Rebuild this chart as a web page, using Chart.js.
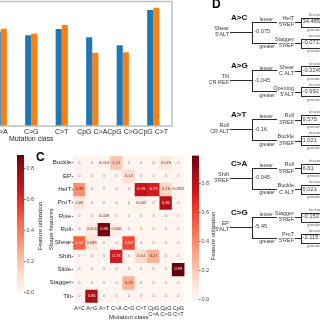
<!DOCTYPE html>
<html>
<head>
<meta charset="utf-8">
<script src="https://cdn.jsdelivr.net/npm/chart.js@4.4.1/dist/chart.umd.min.js"></script>
<style>
  html, body { margin: 0; padding: 0; background: #fff; width: 320px; height: 320px; overflow: hidden; position: relative; font-family: "Liberation Sans", Arial, sans-serif; }
  canvas { position: absolute; }
  .t { position: absolute; white-space: nowrap; line-height: 1; color: #3a3a3a; }
  .ln { position: absolute; background: #2a2a2a; }
</style>
</head>
<body>
<canvas id="barA" width="279" height="143" style="left:-106px;top:0"></canvas>
<canvas id="heatB" width="13" height="172" style="left:-4.3px;top:150px"></canvas>
<canvas id="cbB" width="20" height="147" style="left:17px;top:150px"></canvas>
<canvas id="heatC" width="146" height="172" style="left:40.5px;top:150px"></canvas>
<canvas id="cbC" width="20" height="154" style="left:192px;top:150px"></canvas>

<script>
// ---- bar chart (panel A, cropped) ----
const barLabels = ['A>C', 'A>G', 'A>T', 'C>A', 'C>G', 'C>T', 'CpG C>A', 'CpG C>G', 'CpG C>T'];
const blueVals = [0.80, 0.78, 0.74, 0.76, 0.729, 0.779, 0.712, 0.648, 0.932];
const orangeVals = [0.83, 0.80, 0.76, 0.781, 0.741, 0.811, 0.589, 0.592, 0.950];

// ---- heatmaps ----
const shapeRows = ['Buckle', 'EP', 'HelT', 'ProT', 'Rise', 'Roll', 'Shear', 'Shift', 'Slide', 'Stagger', 'Tilt'];
const mutCols = ['A>C', 'A>G', 'A>T', 'C>A', 'C>G', 'C>T', ['CpG', 'C>A'], ['CpG', 'C>G'], ['CpG', 'C>T']];
const utilC = [
  [0, 0, 0.014, 0.21, 0, 0, 0, 0.076, 0],
  [0, 0, 0, 0, 0.13, 0, 0, 0, 0],
  [0.38, 0, 0, 0, 0, 0.78, 0.73, 0.16, 0.0091],
  [0.09, 0, 0, 0, 0, 0.042, 0, 0.81, 0],
  [0, 0, 0.028, 0, 0, 0, 0, 0, 0],
  [0, 0.054, 0.96, 0.046, 0, 0, 0, 0, 0],
  [0.52, 0.089, 0, 0, 0.59, 0, 0, 0, 0],
  [0, 0, 0, 0.73, 0, 0.14, 0.27, 0, 0],
  [0, 0, 0, 0, 0, 0, 0, 0, 0.99],
  [0, 0, 0, 0, 0.28, 0, 0, 0, 0],
  [0, 0.85, 0, 0, 0, 0, 0, 0, 0]
];
const colsB = [['CpG', 'C>T']];
const utilB = [[0], [0], [0], [0], [0], [0.11], [0], [0], [0.89], [0], [0]];
const vmaxC = 0.99;
const vmaxB = 0.89;
const cbTicks = [0, 0.2, 0.4, 0.6, 0.8];

// ---- decision trees (panel D) ----
const treeTitles = ['A>C', 'A>G', 'A>T', 'C>A', 'C>G'];
const rootFeat = [['Shear', "5'ALT"], ['Tilt', 'CR REF'], ['Roll', 'CR ALT'], ['Shift', "3'REF"], ['EP', "5'ALT"]];
const rootSplit = ['-0.075', '-1.045', '-0.16', '-0.045', '-5.45'];
const lessFeat = [['HelT', "5'REF"], ['Shear', 'C ALT'], ['Roll', "3'REF"], ['Roll', "5'REF"], ['Stagger', "5'REF"]];
const moreFeat = [['Stagger', "5'REF"], ['Opening', "5'ALT"], ['Buckle', "3'REF"], ['Buckle', 'C ALT'], ['ProT', "5'REF"]];
const lessSplit = ['34.485', '-0.2245', '9.575', '6.61', '-0.153'];
const moreSplit = ['-0.0713', '-0.992', '1.021', '5.021', '-2.115'];

const FONT = '"Liberation Sans", Arial, sans-serif';
const reds = ['#fff5f0', '#fee0d2', '#fcbba1', '#fc9272', '#fb6a4a', '#ef3b2c', '#cb181d', '#a50f15', '#67000d'];

function hexRgb(h) {
  return [1, 3, 5].map(k => parseInt(h.slice(k, k + 2), 16));
}
function redAt(t) {
  t = Math.max(0, Math.min(1, t));
  const p = t * (reds.length - 1);
  const i = Math.min(Math.floor(p), reds.length - 2);
  const f = p - i;
  const a = hexRgb(reds[i]), b = hexRgb(reds[i + 1]);
  return 'rgb(' + a.map((c, k) => Math.round(c + (b[k] - c) * f)).join(',') + ')';
}

// frame around the bar plot (matplotlib style, with x margins)
const framePlugin = {
  id: 'frame',
  afterDatasetsDraw(chart) {
    const a = chart.chartArea, ctx = chart.ctx;
    ctx.save();
    ctx.strokeStyle = '#bdbdbd';
    ctx.lineWidth = 1.5;
    ctx.strokeRect(a.left - 3.5, a.top, a.right - a.left + 7, a.bottom - a.top);
    ctx.restore();
  }
};

new Chart(document.getElementById('barA'), {
  type: 'bar',
  data: {
    labels: barLabels,
    datasets: [
      { data: blueVals, backgroundColor: '#1f77b4', categoryPercentage: 0.4, barPercentage: 1 },
      { data: orangeVals, backgroundColor: '#ff7f0e', categoryPercentage: 0.4, barPercentage: 1 }
    ]
  },
  options: {
    responsive: false,
    animation: false,
    layout: { padding: { top: 1.5, right: 4.5, left: 0, bottom: 0 } },
    plugins: { legend: { display: false }, tooltip: { enabled: false } },
    scales: {
      x: {
        grid: { display: false, drawTicks: false },
        border: { display: false },
        ticks: { color: '#262626', font: { family: FONT, size: 7 }, padding: 2, autoSkip: false, maxRotation: 0, minRotation: 0 },
        title: { display: true, text: 'Mutation class', color: '#262626', font: { family: FONT, size: 7 }, padding: 0 },
        afterFit: s => { s.height = 17; }
      },
      y: { display: false, min: 0, max: 1 }
    }
  },
  plugins: [framePlugin]
});

function cellText(vmax) {
  return {
    id: 'cellText',
    afterDatasetsDraw(chart) {
      const ctx = chart.ctx;
      ctx.save();
      ctx.font = '4px ' + FONT;
      ctx.textAlign = 'center';
      ctx.textBaseline = 'middle';
      chart.data.datasets.forEach((ds, i) => {
        chart.getDatasetMeta(i).data.forEach((el, j) => {
          const v = ds.vals[j];
          ctx.fillStyle = v / vmax > 0.45 ? '#ffffff' : (v > 0 ? '#5b2a20' : '#8a7670');
          ctx.fillText(String(v), el.x, (el.y + el.base) / 2);
        });
      });
      ctx.restore();
    }
  };
}

function heatmap(id, cols, grid, vmax, showY, showTitle, xHeight) {
  return new Chart(document.getElementById(id), {
    type: 'bar',
    data: {
      labels: cols,
      datasets: shapeRows.map((r, i) => ({
        label: r,
        vals: grid[i],
        data: grid[i].map(() => [i - 0.5, i + 0.5]),
        backgroundColor: grid[i].map(v => redAt(v / vmax)),
        borderWidth: 0,
        grouped: false,
        barPercentage: 1,
        categoryPercentage: 1
      }))
    },
    options: {
      responsive: false,
      animation: false,
      layout: { padding: { top: 6, right: 0, left: 0, bottom: 0 } },
      plugins: { legend: { display: false }, tooltip: { enabled: false } },
      scales: {
        x: {
          grid: { display: false, drawTicks: false },
          border: { display: false },
          ticks: { color: '#262626', font: { family: FONT, size: 5.5, lineHeight: 1.05 }, padding: 3, autoSkip: false, maxRotation: 0, minRotation: 0 },
          title: { display: showTitle, text: 'Mutation class', color: '#262626', font: { family: FONT, size: 6.2 }, padding: 1.4 },
          afterFit: s => { s.height = xHeight; }
        },
        y: {
          display: showY,
          reverse: true,
          min: -0.5,
          max: 10.5,
          afterBuildTicks: s => { s.ticks = shapeRows.map((_, i) => ({ value: i })); },
          grid: { drawOnChartArea: false, tickLength: 1.5, color: '#333', lineWidth: 0.8 },
          border: { display: false },
          ticks: { color: '#262626', font: { family: FONT, size: 6.2 }, padding: 0.5, callback: v => shapeRows[v] },
          title: { display: true, text: 'Shape features', color: '#262626', font: { family: FONT, size: 6.2 }, padding: { top: 7, bottom: 0 } },
          afterFit: s => { s.width = 32.2; }
        }
      }
    },
    plugins: [cellText(vmax)]
  });
}

heatmap('heatC', mutCols, utilC, vmaxC, true, true, 19.3);
heatmap('heatB', colsB, utilB, vmaxB, false, false, 19.3);

function colorbar(id, vmax, topPad) {
  return new Chart(document.getElementById(id), {
    type: 'bar',
    data: {
      labels: [''],
      datasets: [{
        data: [vmax],
        barPercentage: 1,
        categoryPercentage: 1,
        backgroundColor: c => {
          const a = c.chart.chartArea;
          if (!a) return reds[0];
          const g = c.chart.ctx.createLinearGradient(0, a.bottom, 0, a.top);
          reds.forEach((col, k) => g.addColorStop(k / (reds.length - 1), col));
          return g;
        }
      }]
    },
    options: {
      responsive: false,
      animation: false,
      layout: { padding: { top: topPad, right: 0, left: 0, bottom: 0 } },
      plugins: { legend: { display: false }, tooltip: { enabled: false } },
      scales: {
        x: { display: false },
        y: {
          position: 'right',
          min: 0,
          max: vmax,
          afterBuildTicks: s => { s.ticks = cbTicks.map(v => ({ value: v })); },
          grid: { drawOnChartArea: false, tickLength: 1.5, color: '#444', lineWidth: 0.8 },
          border: { display: false },
          ticks: { color: '#444', font: { family: FONT, size: 5.5 }, padding: 1, callback: v => v.toFixed(1) },
          afterFit: s => { s.width = 13; }
        }
      }
    }
  });
}

colorbar('cbB', vmaxB, 5);
colorbar('cbC', vmaxC, 5.5);

// ---- HTML text and lines ----
function put(s, x, y, size, align, extra) {
  const el = document.createElement('div');
  el.className = 't';
  el.textContent = s;
  el.style.left = x + 'px';
  el.style.top = y + 'px';
  el.style.fontSize = size + 'px';
  const tx = align === 'right' ? '-100%' : align === 'center' ? '-50%' : '0';
  el.style.transform = 'translate(' + tx + ',-50%)' + (extra && extra.rot ? ' rotate(-90deg)' : '');
  if (extra && extra.css) Object.assign(el.style, extra.css);
  document.body.appendChild(el);
}
function line(x, y, w, h) {
  const el = document.createElement('div');
  el.className = 'ln';
  el.style.left = x + 'px';
  el.style.top = y + 'px';
  el.style.width = w + 'px';
  el.style.height = h + 'px';
  document.body.appendChild(el);
}

put('Feature utilization', 40, 226, 6.2, 'center', { rot: true, css: { color: '#262626' } });
put('Feature utilization', 213, 236, 6.2, 'center', { rot: true, css: { color: '#262626' } });
put('C', 36, 157, 12, 'left', { css: { fontWeight: 'bold', color: '#000' } });
put('D', 212, 4, 12, 'left', { css: { fontWeight: 'bold', color: '#000' } });

const treeTop = [17.5, 66.3, 115, 163.8, 212.5];
treeTitles.forEach((title, k) => {
  const T = treeTop[k];
  put(title, 231, T, 8, 'left', { css: { fontWeight: 'bold', color: '#111' } });
  put(rootFeat[k][0], 229, T + 11, 5.5, 'right');
  put(rootFeat[k][1], 229, T + 17, 5.5, 'right');
  line(230, T + 14, 22, 1);
  line(251.5, T + 4, 1, 22);
  line(251.5, T + 4, 25, 1);
  line(251.5, T + 25, 25, 1);
  put('lesser', 273, T + 1.2, 5, 'right');
  put('greater', 275, T + 28.6, 5, 'right');
  put(rootSplit[k], 254.5, T + 14.5, 5.5, 'left');
  [[T + 4.5, lessFeat[k], lessSplit[k]], [T + 25.5, moreFeat[k], moreSplit[k]]].forEach(([cy, feat, val]) => {
    put(feat[0], 294, cy - 3.2, 5.5, 'right');
    put(feat[1], 294, cy + 3.2, 5.5, 'right');
    line(295, cy, 6, 1);
    line(300.5, cy - 4.5, 1, 10);
    line(300.5, cy - 4.5, 30, 1);
    line(300.5, cy + 4.5, 30, 1);
    put(val, 302.5, cy + 0.3, 5.8, 'left');
    put('lesser', 309, cy - 7.2, 4.4, 'left', { css: { color: '#666' } });
    put('greater', 307, cy + 7.8, 4.4, 'left', { css: { color: '#666' } });
  });
});
</script>
</body>
</html>
